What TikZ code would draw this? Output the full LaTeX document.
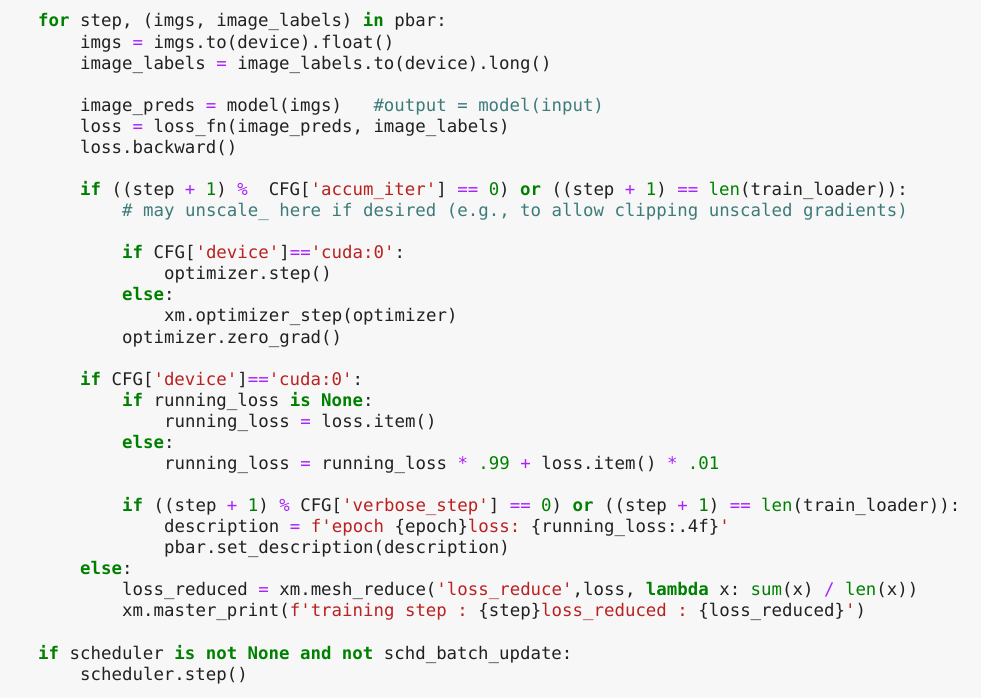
\documentclass[tikz,border=0pt]{standalone}
\usepackage{fontspec}
\setmonofont{DejaVu Sans Mono}
\definecolor{bgc}{HTML}{F7F7F7}
\definecolor{txt}{HTML}{212121}
\definecolor{kwc}{HTML}{008000}
\definecolor{opc}{HTML}{AA22FF}
\definecolor{stc}{HTML}{BA2121}
\definecolor{cmc}{HTML}{3D7B7B}
\newcommand{\kw}[1]{\textcolor{kwc}{\bfseries #1}}
\newcommand{\op}[1]{\textcolor{opc}{#1}}
\newcommand{\st}[1]{\textcolor{stc}{#1}}
\newcommand{\cm}[1]{\textcolor{cmc}{#1}}
\newcommand{\nm}[1]{\textcolor{kwc}{#1}}
\newcommand{\CL}[3]{\node[codeline] (l#1) at ({38+#2*10.5}, {698-27-(#1-1)*21.07}) {#3};}
\begin{document}
\begin{tikzpicture}[x=1pt,y=1pt,
  codeline/.style={anchor=base west, inner sep=0pt, text=txt, font=\ttfamily\fontsize{17.4}{21}\selectfont}]
\fill[bgc] (0,0) rectangle (981,698);
\useasboundingbox (0,0) rectangle (981,698);
\CL{1}{0}{\kw{for} step, (imgs, image\_labels) \kw{in} pbar:}
\CL{2}{4}{imgs \op{=} imgs.to(device).float()}
\CL{3}{4}{image\_labels \op{=} image\_labels.to(device).long()}
\CL{5}{4}{image\_preds \op{=} model(imgs)\ \ \ \cm{\#output = model(input)}}
\CL{6}{4}{loss \op{=} loss\_fn(image\_preds, image\_labels)}
\CL{7}{4}{loss.backward()}
\CL{9}{4}{\kw{if} ((step \op{+} \nm{1}) \op{\%}\ \ CFG[\st{'accum\_iter'}] \op{==} \nm{0}) \kw{or} ((step \op{+} \nm{1}) \op{==} \nm{len}(train\_loader)):}
\CL{10}{8}{\cm{\# may unscale\_ here if desired (e.g., to allow clipping unscaled gradients)}}
\CL{12}{8}{\kw{if} CFG[\st{'device'}]\op{==}\st{'cuda:0'}:}
\CL{13}{12}{optimizer.step()}
\CL{14}{8}{\kw{else}:}
\CL{15}{12}{xm.optimizer\_step(optimizer)}
\CL{16}{8}{optimizer.zero\_grad()}
\CL{18}{4}{\kw{if} CFG[\st{'device'}]\op{==}\st{'cuda:0'}:}
\CL{19}{8}{\kw{if} running\_loss \kw{is} \kw{None}:}
\CL{20}{12}{running\_loss \op{=} loss.item()}
\CL{21}{8}{\kw{else}:}
\CL{22}{12}{running\_loss \op{=} running\_loss \op{*} \nm{.99} \op{+} loss.item() \op{*} \nm{.01}}
\CL{24}{8}{\kw{if} ((step \op{+} \nm{1}) \op{\%} CFG[\st{'verbose\_step'}] \op{==} \nm{0}) \kw{or} ((step \op{+} \nm{1}) \op{==} \nm{len}(train\_loader)):}
\CL{25}{12}{description \op{=} \st{f'epoch }\{epoch\}\st{ loss: }\{running\_loss:.4f\}\st{'}}
\CL{26}{12}{pbar.set\_description(description)}
\CL{27}{4}{\kw{else}:}
\CL{28}{8}{loss\_reduced \op{=} xm.mesh\_reduce(\st{'loss\_reduce'},loss, \kw{lambda} x: \nm{sum}(x) \op{/} \nm{len}(x))}
\CL{29}{8}{xm.master\_print(\st{f'training step : }\{step\}\st{ loss\_reduced : }\{loss\_reduced\}\st{'})}
\CL{31}{0}{\kw{if} scheduler \kw{is} \kw{not} \kw{None} \kw{and} \kw{not} schd\_batch\_update:}
\CL{32}{4}{scheduler.step()}
\end{tikzpicture}
\end{document}
